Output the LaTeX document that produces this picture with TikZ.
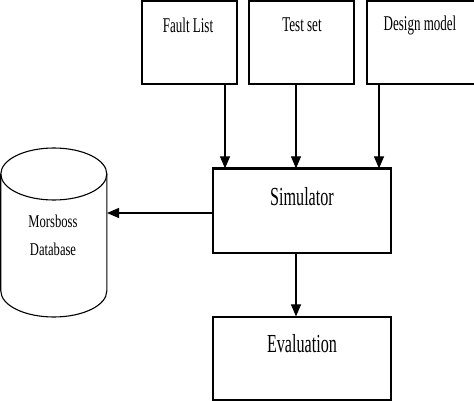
\documentclass[tikz,border=0pt]{standalone}
\usepackage{fontspec}
\usepackage{graphicx}
\setmainfont{Liberation Serif}
\usetikzlibrary{arrows.meta}
\newcommand\cond[2][0.62]{\scalebox{#1}[1]{#2}}
\tikzset{
  box/.style={draw, line width=1.2pt, minimum width=#1, inner sep=0pt},
  toptext/.style={font=\fontsize{21}{24}\selectfont, inner sep=0pt},
  bigtext/.style={font=\fontsize{26}{30}\selectfont, inner sep=0pt},
  dbtext/.style={font=\fontsize{18}{21}\selectfont, inner sep=0pt},
  arr/.style={line width=1.1pt, -{Triangle[width=10pt,length=12pt]}},
}
\begin{document}
\begin{tikzpicture}[x=1pt,y=-1pt]
\useasboundingbox (0,0) rectangle (474,401);
% top boxes
\node[box=95pt, minimum height=83pt] (fl) at (189.5,42.5) {};
\node[box=105pt, minimum height=83pt] (ts) at (301.5,42.5) {};
\node[box=108pt, minimum height=83pt] (dm) at (421,42.5) {};
\draw[line width=2.4pt] (fl.north west) -- (fl.north east);
\draw[line width=2.4pt] (ts.north west) -- (ts.north east);
\draw[line width=2.4pt] (dm.north west) -- (dm.north east);
\node[toptext] (flt) at (188,25) {\cond{Fault List}};
\node[toptext] (tst) at (302,25) {\cond{Test set}};
\node[toptext] (dmt) at (420,25) {\cond{Design model}};
% simulator and evaluation
\node[box=178pt, minimum height=84pt] (sim) at (302,211) {};
\draw[line width=2pt] (sim.north west) -- (sim.north east);
\node[bigtext] (simt) at (302,197) {\cond{Simulator}};
\node[box=178pt, minimum height=83pt] (ev) at (302,358.5) {};
\node[bigtext] (evt) at (302,344) {\cond{Evaluation}};
% database cylinder
\draw[line width=1.1pt] (0.8,174) -- (0.8,291)
  arc[start angle=180, end angle=360, x radius=53pt, y radius=26pt] -- (106.8,174);
\draw[line width=1.1pt] (53.8,174) ellipse [x radius=53pt, y radius=26pt];
\coordinate (dbr) at (107,213);
\node[dbtext] (db1) at (53,221) {\cond[0.7]{Morsboss}};
\node[dbtext] (db2) at (53,249) {\cond[0.7]{Database}};
% connectors
\draw[arr] ([xshift=35.5pt]fl.south) -- ([xshift=-77pt]sim.north);
\draw[arr] ([xshift=-5.5pt]ts.south) -- ([xshift=-6pt]sim.north);
\draw[arr] ([xshift=-42pt]dm.south) -- ([xshift=77pt]sim.north);
\draw[arr] ([xshift=-6pt]sim.south) -- ([xshift=-6pt]ev.north);
\draw[arr] ([yshift=-2pt]sim.west) -- (dbr);
\end{tikzpicture}
\end{document}
